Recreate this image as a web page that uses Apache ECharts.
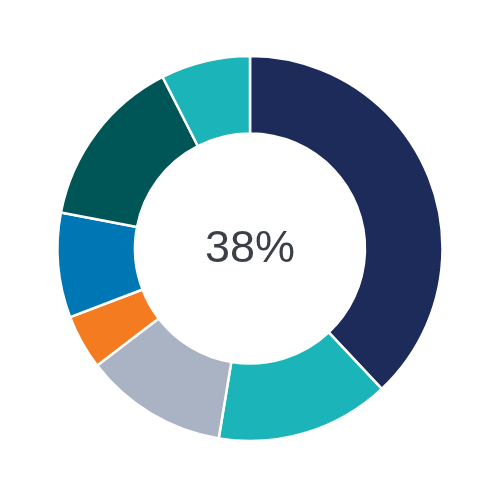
<!DOCTYPE html>
<html>
<head>
<meta charset="utf-8">
<script src="https://cdn.jsdelivr.net/npm/echarts@6/dist/echarts.min.js"></script>
<style>
html, body { margin: 0; padding: 0; background: #fff; }
#chart { width: 500px; height: 500px; }
</style>
</head>
<body>
<div id="chart"></div>
<script>
var names = ['A', 'B', 'C', 'D', 'E', 'F', 'G'];
var values = [38, 14.6, 12, 4.6, 8.8, 14.5, 7.5];
var colors = ['#1d2b5b', '#1bb4b8', '#a9b3c3', '#f47b20', '#0077b5', '#005556', '#1bb4b8'];
var centerLabel = '38%';

var myChart = echarts.init(document.getElementById('chart'));
var option = {
    backgroundColor: '#fff',
    animation: false,
    title: {
        text: centerLabel,
        left: 'center',
        top: 'middle',
        textStyle: {
            fontFamily: 'Liberation Sans',
            fontSize: 45,
            fontWeight: 'normal',
            color: '#3b3f47'
        }
    },
    series: [
        {
            type: 'pie',
            center: ['50%', '49.7%'],
            radius: ['46%', '77%'],
            startAngle: 90,
            clockwise: true,
            label: { show: false },
            labelLine: { show: false },
            itemStyle: {
                borderColor: '#fff',
                borderWidth: 2.5
            },
            data: names.map(function (n, i) {
                return { name: n, value: values[i], itemStyle: { color: colors[i] } };
            })
        }
    ]
};
myChart.setOption(option);
</script>
</body>
</html>
